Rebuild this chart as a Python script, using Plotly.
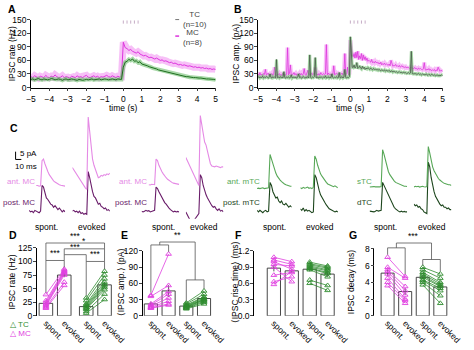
import plotly.graph_objects as go

W, H = 474, 350
def fx(p): return p / W
def fy(p): return 1 - p / H

FONT = "Liberation Sans, Arial, Helvetica, sans-serif"
FS = 8.5

# ---------------- Panel A : IPSC rate time course (t from -5 s, step 0.1 s) ----------------
A_T0, A_DT = -5.0, 0.1
A_TC = [18,19,17,18,20,18,17,19,18,17, 18,20,19,17,18,19,18,16,18,19,
        17,18,19,18,17,16,18,17,16,17, 18,17,18,19,17,18,18,19,17,18,
        19,18,17,18,19,18,17,19,18,18,
        45,56,58,62,60,63,58,59,55,57, 52,51,49,48,46,45,43,42,41,39,
        38,36,35,34,33,32,31,30,29,28, 27,26,26,25,24,24,23,23,22,22,
        21,21,21,20,20,19,19,19,18,18, 17]
A_MC = [24,22,26,23,21,25,24,22,27,23, 22,25,23,28,24,22,23,26,22,24,
        23,21,25,24,22,26,23,24,22,25, 27,23,22,24,26,23,25,22,24,23,
        25,27,24,23,26,24,22,25,23,24,
        100,88,86,82,84,80,78,76,79,74, 72,70,71,68,66,67,64,63,65,62,
        60,61,58,59,57,55,56,53,54,52, 50,51,49,50,48,47,48,46,45,46,
        44,45,43,44,42,43,41,42,40,41, 40]

# ---------------- Panel B : IPSC amplitude time course (t from -5 s, step 0.05 s) ----------------
B_T0, B_DT = -5.0, 0.05
B_TC = [22,24,21,23,22,25,21,23,22,24, 23,21,22,30,22,21,24,22,23,21,
        62,22,23,21,24,22,23,21,35,22, 21,23,22,24,21,22,28,21,23,22,
        23,22,21,24,30,22,23,21,22,24, 22,21,23,22,24,21,72,22,21,23,
        22,24,66,21,23,22,21,24,22,23, 21,23,22,26,21,22,24,21,23,22,
        30,22,21,23,22,24,21,22,33,21, 22,24,21,23,40,22,21,23,22,24,
        112,70,45,44,50,43,46,55,42,44, 48,43,41,47,42,45,40,43,41,44,
        42,40,43,41,39,42,40,41,39,40, 38,40,39,37,39,38,37,39,36,38,
        37,36,38,35,36,37,34,36,35,34, 35,33,34,35,33,34,32,33,34,32,
        33,31,32,33,31,32,80,31,30,31, 30,31,29,30,31,29,30,28,30,29,
        29,28,30,28,27,29,28,27,29,28, 27,28,26,27,28,26,27,26,27,28,
        26]
B_MC = [30,27,33,28,29,26,31,29,40,28, 29,32,27,30,28,31,27,29,45,28,
        26,30,28,31,27,29,26,32,28,30, 27,29,88,28,31,50,27,30,29,33,
        28,31,27,30,29,32,28,31,27,30, 42,29,27,31,38,28,30,27,32,29,
        31,28,44,29,30,27,31,28,33,29, 28,31,29,30,95,28,32,29,30,27,
        31,29,48,28,30,32,29,31,28,30, 29,32,28,31,75,29,30,45,28,31,
        105,80,72,68,75,65,78,66,80,62, 70,64,75,60,72,62,68,60,65,58,
        60,58,56,62,55,57,54,58,55,56, 53,55,52,56,50,53,51,54,50,52,
        51,49,52,48,60,50,47,49,48,51, 47,48,46,49,45,47,48,45,46,44,
        46,43,45,44,42,45,43,44,41,43, 44,41,42,40,43,41,42,40,39,41,
        55,40,38,41,39,42,38,40,37,39, 38,40,36,39,37,45,38,36,38,37,
        36]
stim_times = [0.0, 0.2, 0.4, 0.6, 0.8]
time_ticks = [-5, -4, -3, -2, -1, 0, 1, 2, 3, 4, 5]
ab_yticks = [0, 30, 60, 90, 120, 150]

# ---------------- Panel C : example IPSC traces (pA, step 2.5 ms) ----------------
C_DT = 2.5
N = None
MC1_sp_ant = [N,N,N,N,N, 1,1,0.5,0.8, 17,18,15,12,10,8,6.5,5,4,3.2,2.5,2,1.5,1.2,1,0.8,0.6]
MC1_sp_post = [1,0,0.5,-0.5,1,0.5,0,-0.5,0.5, 17,16,12,9,8,6,5,4.5,3,4,3,1.5,2.5,1,0,1,0]
MC1_ev_ant = [12.5,11,9.5,8,6.5,5,3.5,2,0.5,-0.5,-1.5, 45,36,25,18,14,11,8,6,6.5,7.5,7,8,7.5,8.5,8,9]
MC1_ev_post = [0.5,1,0,0.5,-0.5,0.5,-1,-0.5,-1.5,-1,-1.5, 26,22,16,13,10,9,7,5,5.5,3.5,3,2,2.5,1,1.5,0.5]
MC2_sp_ant = [N,N,N,N,N, 0.5,0.3,0.8,0.5,0.5, 17,16,13,10.5,9,7.5,6,5,4,3.2,2.5,2,1.5,1.2,1,0.8,0.7]
MC2_sp_post = [0.5,0,0.5,1,0.5,0.8,0,0.5,0.5,1, 16,15,13,11,9,8,6,5,3.5,2.5,1.5,1,0,0.5,0,0.3,0]
MC2_ev_ant = [18,16,14,12,10,8,6,4,2,0, 45,40,33,28,26,22,17,14,12.5,12,12,12.5,12,12,11.5,12,12]
MC2_ev_post = [0,-2,-4,-5.5,-6,-6,-5,-3.5,-2,-1, 24,22,17,13,11,9,7,5.5,4,3,3.5,2,1,2,0.5,1,0]
TC1_sp_ant = [0,0.3,0,0.2,0.5,0,0.3,0.2,0.5, 22,19,15,12,10,8,6.5,5.5,4.5,3.5,3,2.5,2,2,1.5,1.5]
TC1_sp_post = [1,0,1,0.5,-0.5,0.5,1,0,0.5, 19,17,13,11,9,9.5,7,6,7,5,4.5,5.5,4,3,4,3]
TC1_ev_ant = [0.5,0,0.8,0.3,0.5,1,0.2,0.5,0,0.8, 21,19,15,12,9.5,8,6.5,5,4,3,2.5,2,1.5,1.2,1.8,1,0.5]
TC1_ev_post = [2,1,2.5,0.5,1.5,0.5,1,0,-0.5,0, 24,22,17,14,11,9,7,6,4.5,3,2,1.5,1,0.5,0,0.5,0]
TC2_sp_ant = [0,0.2,0,0.3,0.1,0,0.2,0.1,0.3, 24,21,17,13,10,8,6.5,5,4,3,2.5,2,1.5,1,0.8,0.5,0.5,0.3]
TC2_sp_post = [0.5,0.3,0.5,0,0.5,1,0.5,0.8,1, 19,17,15,12,10,8,6,4.5,3,2,1,0.5,0,0.5,0,0.3,0,0]
TC2_ev_ant = [0,0.5,0.2,0.5,0,0.3,0.5,0.2,0,0.3, 26,22,17,13,10.5,8.5,7,5.5,4.5,3.5,3,2.5,2,1.8,1.5,1.5,1]
TC2_ev_post = [5,4,4.5,3,3.5,2,1.5,0,-0.5,-1, 32,29,22,17,13,10,8,6.5,5,4,4.5,3,3,2,2.5,1.5,1.5]

# ---------------- Panels D-G : per-cell values (MC n=8, TC n=10) ----------------
cond_labels = ["spont.", "evoked", "spont.", "evoked"]
D_MC_sp = [39, 28, 25, 22, 20, 18, 16, 14]
D_MC_ev = [86, 84, 82, 80, 78, 75, 62, 56]
D_TC_sp = [33, 28, 22, 20, 18, 16, 14, 12, 8, 5]
D_TC_ev = [82, 75, 68, 62, 58, 55, 52, 48, 40, 30]
D_bar = [23, 75, 17, 57]
D_sem = [3, 4, 3, 5]
E_MC_sp = [38, 36, 22, 20, 18, 16, 15, 14]
E_MC_ev = [114, 56, 45, 40, 33, 27, 22, 20]
E_TC_sp = [24, 22, 20, 19, 18, 17, 16, 15, 14, 13]
E_TC_ev = [46, 40, 35, 33, 31, 30, 29, 27, 25, 22]
E_bar = [22, 46, 18, 32]
E_sem = [4, 11, 1.2, 2.3]
F_MC_sp = [1.08, 1.03, 1.0, 0.95, 0.9, 0.75, 0.63, 0.58]
F_MC_ev = [1.0, 0.95, 0.86, 0.92, 0.63, 0.8, 0.72, 0.82]
F_TC_sp = [0.99, 0.96, 0.94, 0.92, 0.9, 0.88, 0.87, 0.85, 0.66, 0.6]
F_TC_ev = [0.92, 0.9, 0.88, 0.85, 0.83, 0.8, 0.78, 0.72, 0.56, 0.47]
F_bar = [0.88, 0.83, 0.86, 0.77]
F_sem = [0.06, 0.04, 0.04, 0.05]
G_MC_sp = [7.0, 5.8, 5.5, 5.3, 5.0, 4.5, 4.0, 3.6]
G_MC_ev = [4.7, 4.5, 3.5, 3.0, 2.5, 2.0, 1.8, 1.5]
G_TC_sp = [5.8, 5.5, 5.2, 5.0, 4.8, 4.6, 4.3, 4.2, 4.0, 3.7]
G_TC_ev = [5.0, 4.5, 4.0, 3.8, 3.6, 3.5, 3.3, 3.0, 2.4, 1.5]
G_bar = [5.1, 2.9, 4.6, 3.45]
G_sem = [0.4, 0.4, 0.2, 0.3]

# ---------------- styling ----------------
MAG = "#dd33dd"
MAG_BAND = "rgba(240,140,240,0.55)"
GRN = "#1f6e1f"
GRN_BAND = "rgba(110,190,110,0.6)"
BTC = "#4a5a4a"
ANT_MC = "#e58ae5"
POST_MC = "#6a1d6a"
ANT_TC = "#58a858"
POST_TC = "#1d461d"
PT_MC = "#e040e0"
PT_TC = "#2e8b2e"
BR = "#555555"

fig = go.Figure()
layout = dict(width=W, height=H, margin=dict(l=0, r=0, t=0, b=0),
              paper_bgcolor="white", plot_bgcolor="white", showlegend=False,
              font=dict(family=FONT, size=FS, color="black"))
shapes, annos = [], []

def base_axis(**kw):
    d = dict(showgrid=False, zeroline=False, ticks="outside", ticklen=3, tickwidth=0.8,
             showline=True, linecolor="black", linewidth=0.8, tickfont=dict(size=FS, family=FONT))
    d.update(kw)
    return d

def text(x, y, s, size=FS, color="black", xanchor="center", yanchor="middle", angle=0):
    annos.append(dict(x=fx(x), y=fy(y), xref="paper", yref="paper", text=s, showarrow=False,
                      xanchor=xanchor, yanchor=yanchor, textangle=angle,
                      font=dict(size=size, color=color, family=FONT)))

# ---- A and B ----
def time_panel(idx, x0, x1, t0, dt, tc, mc, tc_col, bw_mc, bw_tc, lw):
    xa, ya = ("x", "y") if idx == 1 else ("x%d" % idx, "y%d" % idx)
    t = [round(t0 + dt * i, 3) for i in range(len(tc))]
    for vals, band, bw, col in ((mc, MAG_BAND, bw_mc, MAG), (tc, GRN_BAND, bw_tc, tc_col)):
        fig.add_trace(go.Scatter(x=t, y=vals, mode="lines", xaxis=xa, yaxis=ya,
                                 line=dict(color=band, width=bw), hoverinfo="skip"))
        fig.add_trace(go.Scatter(x=t, y=vals, mode="lines", xaxis=xa, yaxis=ya,
                                 line=dict(color=col, width=lw)))
    sx, sy = [], []
    for s in stim_times:
        sx += [s, s, None]; sy += [141, 148, None]
    fig.add_trace(go.Scatter(x=sx, y=sy, mode="lines", xaxis=xa, yaxis=ya,
                             line=dict(color="#b898b8", width=0.8)))
    sfx = "" if idx == 1 else str(idx)
    layout["xaxis" + sfx] = base_axis(domain=[fx(x0), fx(x1)], range=[-5, 5], tickvals=time_ticks,
                                       anchor=ya)
    layout["yaxis" + sfx] = base_axis(domain=[fy(85), fy(15)], range=[0, 150], tickvals=ab_yticks,
                                       anchor=xa, ticklabelstandoff=-1)

time_panel(1, 27, 219, A_T0, A_DT, A_TC, A_MC, GRN, 7, 4, 1)
time_panel(2, 263, 455, B_T0, B_DT, B_TC, B_MC, BTC, 4, 3, 0.8)
text(123, 106, "time (s)")
text(359, 106, "time (s)")
text(7, 50, "IPSC rate (Hz)", angle=-90)
text(240, 50, "IPSC amp. (pA)", angle=-90)
# legend A
shapes.append(dict(type="line", xref="paper", yref="paper", x0=fx(177), x1=fx(181), y0=fy(15), y1=fy(15),
                   line=dict(color="#777777", width=1)))
shapes.append(dict(type="line", xref="paper", yref="paper", x0=fx(177), x1=fx(181), y0=fy(32), y1=fy(32),
                   line=dict(color=MAG, width=1.5)))
text(183, 15, "TC<br>(n=10)", color="#444444", xanchor="left", size=8)
text(183, 33, "MC<br>(n=8)", color="#444444", xanchor="left", size=8)

# ---- C ----
PX_MS, PX_PA = 0.6, 1.6
C_TOP, C_BOT, C_BASE = 112, 220, 213
columns = [  # (x start px, ant trace, post trace, ant colour, post colour, ant offset pA)
    (25, MC1_sp_ant, MC1_sp_post, ANT_MC, POST_MC, 16),
    (70, MC1_ev_ant, MC1_ev_post, ANT_MC, POST_MC, 16),
    (142, MC2_sp_ant, MC2_sp_post, ANT_MC, POST_MC, 17),
    (188, MC2_ev_ant, MC2_ev_post, ANT_MC, POST_MC, 17),
    (262, TC1_sp_ant, TC1_sp_post, ANT_TC, POST_TC, 15),
    (307, TC1_ev_ant, TC1_ev_post, ANT_TC, POST_TC, 15),
    (379, TC2_sp_ant, TC2_sp_post, ANT_TC, POST_TC, 16),
    (425, TC2_ev_ant, TC2_ev_post, ANT_TC, POST_TC, 16),
]
for k, (x0, ant, post, ca, cp, off) in enumerate(columns):
    idx = 3 + k
    n = len(post)
    t = [C_DT * i for i in range(n)]
    xa, ya = "x%d" % idx, "y%d" % idx
    fig.add_trace(go.Scatter(x=t, y=post, mode="lines", xaxis=xa, yaxis=ya,
                             line=dict(color=cp, width=1.1)))
    fig.add_trace(go.Scatter(x=t, y=[None if v is None else v + off for v in ant], mode="lines",
                             xaxis=xa, yaxis=ya, line=dict(color=ca, width=1.1)))
    w = (n - 1) * C_DT * PX_MS
    layout["xaxis%d" % idx] = dict(domain=[fx(x0), fx(x0 + w)], range=[0, (n - 1) * C_DT],
                                   visible=False, anchor=ya)
    layout["yaxis%d" % idx] = dict(domain=[fy(C_BOT), fy(C_TOP)],
                                   range=[-(C_BOT - C_BASE) / PX_PA, (C_BASE - C_TOP) / PX_PA],
                                   visible=False, anchor=xa)
# scale bar
shapes.append(dict(type="line", xref="paper", yref="paper", x0=fx(11), x1=fx(11), y0=fy(151), y1=fy(159),
                   line=dict(color="black", width=1)))
shapes.append(dict(type="line", xref="paper", yref="paper", x0=fx(11), x1=fx(17), y0=fy(159), y1=fy(159),
                   line=dict(color="black", width=1)))
text(14, 153, "5 pA", xanchor="left", size=8)
text(8, 166, "10 ms", xanchor="left", size=8)
for xr, a_lab, p_lab, ca, cp in ((33, "ant. MC", "post. MC", ANT_MC, POST_MC),
                                 (150, "ant. MC", "post. MC", ANT_MC, POST_MC),
                                 (267, "ant. mTC", "post. mTC", ANT_TC, POST_TC),
                                 (384, "sTC", "dTC", ANT_TC, POST_TC)):
    text(xr, 182, a_lab, color=ca, xanchor="right", size=8)
    text(xr, 203, p_lab, color=cp, xanchor="right", size=8)
for xc, s in ((43, "spont."), (90, "evoked"), (165, "spont."), (207, "evoked"),
              (280, "spont."), (327, "evoked"), (395, "spont."), (444, "evoked")):
    text(xc, 229, s)

# ---- D-G ----
def bar_panel(idx, xdom, xrange, pos, ydom_px, yrange, yticks, bars, sem, mc_sp, mc_ev, tc_sp, tc_ev, tickfmt=None):
    xa, ya = "x%d" % idx, "y%d" % idx
    fig.add_trace(go.Bar(x=pos, y=bars, xaxis=xa, yaxis=ya, width=0.74,
                         marker=dict(color="white", line=dict(color="#333333", width=0.9)),
                         error_y=dict(type="data", array=sem, color="#333333", thickness=0.8, width=0)))
    for sp, ev, col, p0, p1 in ((tc_sp, tc_ev, PT_TC, pos[2], pos[3]), (mc_sp, mc_ev, PT_MC, pos[0], pos[1])):
        xs, ys = [], []
        for a, b in zip(sp, ev):
            xs += [p0, p1, None]; ys += [a, b, None]
        fig.add_trace(go.Scatter(x=xs, y=ys, mode="lines+markers", xaxis=xa, yaxis=ya,
                                 line=dict(color=col, width=0.8),
                                 marker=dict(symbol="triangle-up-open", size=5, color=col,
                                             line=dict(width=0.9, color=col))))
    layout["xaxis%d" % idx] = dict(domain=[fx(xdom[0]), fx(xdom[1])], range=xrange, anchor=ya,
                                   showline=False, showgrid=False, zeroline=False, ticks="",
                                   tickvals=pos, ticktext=cond_labels, tickangle=45,
                                   tickfont=dict(size=FS, family=FONT))
    yk = base_axis(domain=[fy(ydom_px[0]), fy(ydom_px[1])], range=yrange, tickvals=yticks, anchor=xa,
                   ticklabelstandoff=-1)
    if tickfmt:
        yk["tickformat"] = tickfmt
    layout["yaxis%d" % idx] = yk

D_pos = [0, 1, 2.2, 3.2]
E_pos = [0, 1, 2, 3]
bar_panel(11, (33, 113), [-0.5, 3.7], D_pos, (320, 250), [0, 125], [0, 25, 50, 75, 100, 125],
          D_bar, D_sem, D_MC_sp, D_MC_ev, D_TC_sp, D_TC_ev)
bar_panel(12, (143, 217), [-0.47, 3.55], E_pos, (320, 253), [0, 120], [0, 30, 60, 90, 120],
          E_bar, E_sem, E_MC_sp, E_MC_ev, E_TC_sp, E_TC_ev)
bar_panel(13, (259, 345), [-1.1, 3.52], E_pos, (320, 253), [0, 1.2], [0, 0.3, 0.6, 0.9, 1.2],
          F_bar, F_sem, F_MC_sp, F_MC_ev, F_TC_sp, F_TC_ev, tickfmt=".1f")
bar_panel(14, (384, 462), [-0.75, 3.52], E_pos, (320, 251), [0, 8], [0, 2, 4, 6, 8],
          G_bar, G_sem, G_MC_sp, G_MC_ev, G_TC_sp, G_TC_ev)

def bracket(idx, xa_, xb_, ypx, ya_bot, yb_bot, label=None):
    xr = "x%d" % idx
    ln = dict(color=BR, width=0.8)
    shapes.append(dict(type="line", xref=xr, yref="paper", x0=xa_, x1=xb_, y0=fy(ypx), y1=fy(ypx), line=ln))
    shapes.append(dict(type="line", xref=xr, yref="paper", x0=xa_, x1=xa_, y0=fy(ypx), y1=fy(ya_bot), line=ln))
    shapes.append(dict(type="line", xref=xr, yref="paper", x0=xb_, x1=xb_, y0=fy(ypx), y1=fy(yb_bot), line=ln))
    if label:
        annos.append(dict(x=(xa_ + xb_) / 2, y=fy(ypx - 0.5), xref=xr, yref="paper", text=label,
                          showarrow=False, yanchor="bottom", font=dict(size=FS, family=FONT, color="black")))

# D comparisons
bracket(11, D_pos[0], D_pos[3], 245, 263, 251, "***")
bracket(11, D_pos[1], D_pos[3], 251, 257, 264, "*")
bracket(11, D_pos[1], D_pos[2], 257, 263, 264, "***")
bracket(11, D_pos[0], D_pos[1], 263, 296, 270, "***")
bracket(11, D_pos[2], D_pos[3], 264, 299, 272, "***")
# E
bracket(12, E_pos[0], E_pos[1], 247, 296, 254)
bracket(12, E_pos[2], E_pos[3], 283, 304, 292)
bracket(12, 0.5, 2.5, 244, 247, 283, "**")
# G
bracket(14, E_pos[0], E_pos[1], 250, 257, 277)
bracket(14, E_pos[2], E_pos[3], 262, 268, 274)
bracket(14, 0.5, 2.5, 245, 250, 262, "***")

text(7, 285, "IPSC rate (Hz)", angle=-90)
text(120, 285, "⟨IPSC amp.⟩ (pA)", angle=-90)
text(238.5, 285, "⟨IPSC rise time⟩ (ms)", angle=-90)
text(359, 285, "IPSC decay (ms)", angle=-90)
text(3, 329, "△ TC", color=PT_TC, xanchor="left", size=8)
text(3, 338, "△ MC", color=PT_MC, xanchor="left", size=8)

for x, y, s in ((1, 4.5, "A"), (236, 4.5, "B"), (3, 127, "C"), (2, 237, "D"),
                (118, 237, "E"), (237, 237, "F"), (355, 237, "G")):
    text(x, y, "<b>%s</b>" % s, size=10.5, xanchor="left")

layout["shapes"] = shapes
layout["annotations"] = annos
fig.update_layout(**layout)
fig.write_html("out.html")
